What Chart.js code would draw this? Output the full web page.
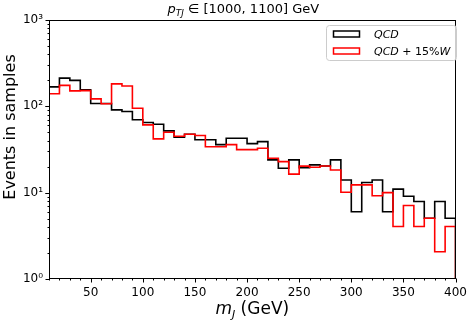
<!DOCTYPE html>
<html>
<head>
<meta charset="utf-8">
<script src="https://cdn.jsdelivr.net/npm/chart.js@4/dist/chart.umd.min.js"></script>
<style>
  body { margin: 0; background: #fff; }
  canvas { display: block; }
</style>
</head>
<body>
<canvas id="histChart" width="474" height="333"></canvas>
<script>
// left edges of the 10 GeV bins in m_J
const binLefts = [10, 20, 30, 40, 50, 60, 70, 80, 90, 100, 110, 120, 130, 140, 150, 160, 170, 180, 190, 200,
  210, 220, 230, 240, 250, 260, 270, 280, 290, 300, 310, 320, 330, 340, 350, 360, 370, 380, 390];
const binWidth = 10;

const qcd = [168, 212, 200, 155, 108, 108, 91, 87, 70, 65, 62, 52, 44, 47.5, 41, 41, 36, 42.7, 42.7, 37,
  39, 24, 19.2, 24, 19.5, 21, 20.4, 24, 14, 6.0, 13.1, 14, 6.0, 11, 9.1, 7.9, 5.05, 7.9, 5.05];
const qcdW = [140, 175, 151, 152, 122, 107, 182, 172, 95, 61, 42, 50, 45, 47.5, 46, 34, 34, 36, 31.5, 31.5,
  32.7, 25, 22.9, 16.4, 20.3, 19.7, 20.4, 18.3, 10.1, 12.3, 12.3, 9.2, 10, 4.05, 7.1, 4.05, 5.05, 2.07, 4.05];

const xTicks = [50, 100, 150, 200, 250, 300, 350, 400];
const yTicks = [1, 10, 100, 1000];
const yTickLabels = ["10⁰", "10¹", "10²", "10³"];

const FONT = "DejaVu Sans";
Chart.defaults.font.family = FONT;
Chart.defaults.color = "#000";

// outline of a step histogram, dropping to the axis floor at both ends
function stepPoints(values) {
  const pts = [{ x: binLefts[0], y: 1 }];
  values.forEach((v, i) => pts.push({ x: binLefts[i], y: v }));
  const end = binLefts[binLefts.length - 1] + binWidth;
  pts.push({ x: end, y: values[values.length - 1] });
  pts.push({ x: end, y: 1 });
  return pts;
}

function drawPieces(ctx, pieces, x, y, align) {
  let total = 0;
  pieces.forEach((p) => {
    ctx.font = p.font;
    total += ctx.measureText(p.text).width;
  });
  let cx = align === "center" ? x - total / 2 : x;
  ctx.textAlign = "left";
  ctx.textBaseline = "alphabetic";
  pieces.forEach((p) => {
    ctx.font = p.font;
    ctx.fillText(p.text, cx, y + (p.dy || 0));
    cx += ctx.measureText(p.text).width;
  });
}

const decorations = {
  id: "decorations",
  afterDatasetsDraw(chart) {
    const { ctx, chartArea: a, scales } = chart;
    ctx.save();
    ctx.strokeStyle = "#000";
    ctx.lineWidth = 1;

    // frame
    ctx.strokeRect(Math.round(a.left) + 0.5, Math.round(a.top) + 0.5,
      Math.round(a.right - a.left) - 1, Math.round(a.bottom - a.top) - 1);

    // tick marks
    ctx.beginPath();
    const bottom = Math.round(a.bottom) - 0.5;
    for (let v = 10; v <= 400; v += 10) {
      const px = Math.round(scales.x.getPixelForValue(v)) + 0.5;
      const len = v % 50 === 0 ? 4 : 2;
      ctx.moveTo(px, bottom);
      ctx.lineTo(px, bottom + len);
    }
    const left = Math.round(a.left) + 0.5;
    for (let d = 1; d < 1000; d *= 10) {
      for (let m = 1; m <= 10; m++) {
        const v = d * m;
        const py = Math.round(scales.y.getPixelForValue(v)) + 0.5;
        const len = m === 1 || m === 10 ? 4 : 2;
        ctx.moveTo(left, py);
        ctx.lineTo(left - len, py);
      }
    }
    ctx.stroke();

    // legend
    const lx = 326.5, ly = 25.5, lw = 130, lh = 35;
    ctx.beginPath();
    ctx.roundRect(lx, ly, lw, lh, 3);
    ctx.fillStyle = "rgba(255,255,255,0.8)";
    ctx.fill();
    ctx.strokeStyle = "#cccccc";
    ctx.stroke();
    const items = [
      { color: "#000", pieces: [{ text: "QCD", font: "italic 11px " + FONT }] },
      { color: "#ff0000", pieces: [{ text: "QCD", font: "italic 11px " + FONT },
        { text: " + ", font: "11px " + FONT }, { text: "15%", font: "11px " + FONT },
        { text: "W", font: "italic 11px " + FONT }] }
    ];
    items.forEach((it, i) => {
      const cy = 34 + i * 17;
      ctx.strokeStyle = it.color;
      ctx.lineWidth = 1.5;
      ctx.strokeRect(333.5, cy - 3, 26, 6);
      ctx.fillStyle = "#000";
      drawPieces(ctx, it.pieces, 374, cy + 4, "left");
    });

    // title
    ctx.fillStyle = "#000";
    const cx = (a.left + a.right) / 2;
    drawPieces(ctx, [
      { text: "p", font: "italic 13px " + FONT },
      { text: "TJ", font: "italic 9px " + FONT, dy: 3 },
      { text: " ∈ [1000, 1100] GeV", font: "13px " + FONT }
    ], cx - 9, 13, "center");

    // x label
    drawPieces(ctx, [
      { text: "m", font: "italic 17px " + FONT },
      { text: "J", font: "italic 11px " + FONT, dy: 3.5 },
      { text: " (GeV)", font: "17px " + FONT }
    ], cx, 314, "center");

    // y label
    ctx.save();
    ctx.translate(15, 127);
    ctx.rotate(-Math.PI / 2);
    ctx.font = "16px " + FONT;
    ctx.textAlign = "center";
    ctx.textBaseline = "alphabetic";
    ctx.fillText("Events in samples", 0, 0);
    ctx.restore();

    ctx.restore();
  }
};

new Chart(document.getElementById("histChart"), {
  type: "line",
  data: {
    datasets: [
      {
        label: "QCD + 15%W",
        data: stepPoints(qcdW),
        borderColor: "#ff0000",
        borderWidth: 1.6,
        stepped: "before",
        pointRadius: 0,
        fill: false,
        order: 0,
      },
      {
        label: "QCD",
        data: stepPoints(qcd),
        borderColor: "#000000",
        borderWidth: 1.6,
        stepped: "before",
        pointRadius: 0,
        fill: false,
        order: 1,
      },
    ],
  },
  options: {
    responsive: false,
    animation: false,
    layout: { padding: { top: 20, right: 12, left: 0, bottom: 0 } },
    plugins: {
      legend: { display: false },
      tooltip: { enabled: false },
    },
    scales: {
      x: {
        type: "linear",
        min: 10,
        max: 400,
        afterBuildTicks: (s) => { s.ticks = xTicks.map((v) => ({ value: v })); },
        afterFit: (s) => { s.height = 54; },
        grid: { display: false, drawTicks: false },
        border: { display: false },
        ticks: { font: { size: 12 }, padding: 7, maxRotation: 0, color: "#000" },
      },
      y: {
        type: "logarithmic",
        min: 1,
        max: 1000,
        afterBuildTicks: (s) => { s.ticks = yTicks.map((v) => ({ value: v })); },
        afterFit: (s) => { s.width = 49; },
        grid: { display: false, drawTicks: false },
        border: { display: false },
        ticks: {
          font: { size: 12 },
          padding: 6,
          color: "#000",
          callback: (v) => yTickLabels[yTicks.indexOf(v)],
        },
      },
    },
  },
  plugins: [decorations],
});
</script>
</body>
</html>
